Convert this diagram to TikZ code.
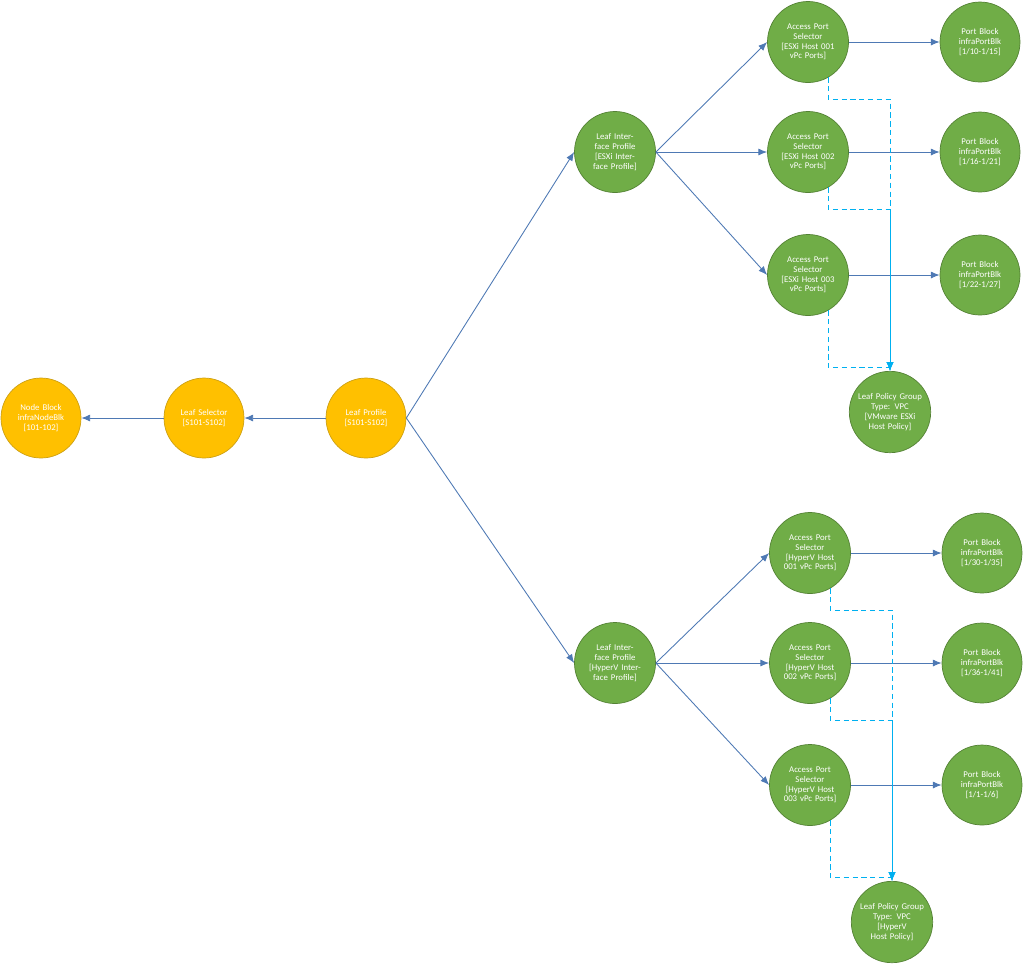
\documentclass[tikz,border=0pt]{standalone}
\usepackage{fontspec}
\setmainfont{Carlito}
\usetikzlibrary{arrows.meta}
\definecolor{leafgreen}{RGB}{112,173,71}
\definecolor{leafgreenline}{RGB}{84,130,53}
\definecolor{nodeorange}{RGB}{255,192,0}
\definecolor{nodeorangeline}{RGB}{205,160,20}
\definecolor{linkblue}{RGB}{78,121,180}
\definecolor{policycyan}{RGB}{0,176,240}
\tikzset{>={Latex[length=5pt,width=4pt]}}

\begin{document}
\begin{tikzpicture}[x=0.02cm, y=-0.02cm]
\tikzset{greenball/.style={circle, draw=leafgreenline, fill=leafgreen, minimum size=1.6cm, inner sep=0pt, text width=1.45cm, align=center, text=white, font=\fontsize{5}{5.6}\selectfont}}
\tikzset{orangeball/.style={greenball, draw=nodeorangeline, fill=nodeorange}}
\tikzset{link/.style={->, draw=linkblue, line width=0.5pt}}
\tikzset{policylink/.style={->, draw=policycyan, densely dashed, line width=0.5pt}}
    \useasboundingbox (0,0) rectangle (1024,965);

    \node[orangeball] (nodeblk) at (41,418) {Node Block\\infraNodeBlk\\{[}101-102{]}};
    \node[orangeball] (leafsel) at (204,418) {Leaf Selector\\{[}S101-S102{]}};
    \node[orangeball] (leafprof) at (366,418) {Leaf Profile\\{[}S101-S102{]}};
% % % % % % % % % % ESXi
    \node[greenball] (lipesx) at (615,152) {Leaf Interface Profile\\{[}ESXi Interface Profile{]}};
    \node[greenball] (aps1) at (808,42) {Access Port Selector\\{[}ESXi Host 001 vPc Ports{]}};
    \node[greenball] (aps2) at (808,152) {Access Port Selector\\{[}ESXi Host 002 vPc Ports{]}};
    \node[greenball] (aps3) at (808,275) {Access Port Selector\\{[}ESXi Host 003 vPc Ports{]}};
    \node[greenball] (pb1) at (980,42) {Port Block\\infraPortBlk\\{[}1/10-1/15{]}};
    \node[greenball] (pb2) at (980,152) {Port Block\\infraPortBlk\\{[}1/16-1/21{]}};
    \node[greenball] (pb3) at (980,275) {Port Block\\infraPortBlk\\{[}1/22-1/27{]}};
    \node[greenball] (lpgesx) at (890,412) {Leaf Policy Group\\Type: VPC\\{[}VMware ESXi Host Policy{]}};
% % % % % % % % % % HyperV
    \node[greenball] (liphv) at (615,663) {Leaf Interface Profile\\{[}HyperV Interface Profile{]}};
    \node[greenball] (aps4) at (810,553) {Access Port Selector\\{[}HyperV Host 001 vPc Ports{]}};
    \node[greenball] (aps5) at (810,663) {Access Port Selector\\{[}HyperV Host 002 vPc Ports{]}};
    \node[greenball] (aps6) at (810,785) {Access Port Selector\\{[}HyperV Host 003 vPc Ports{]}};
    \node[greenball] (pb4) at (982,553) {Port Block\\infraPortBlk\\{[}1/30-1/35{]}};
    \node[greenball] (pb5) at (982,663) {Port Block\\infraPortBlk\\{[}1/36-1/41{]}};
    \node[greenball] (pb6) at (982,785) {Port Block\\infraPortBlk\\{[}1/1-1/6{]}};
    \node[greenball] (lpghv) at (892,922) {Leaf Policy Group\\Type: VPC\\{[}HyperV Host Policy{]}};

    \draw[link] (leafprof) -- (leafsel);
    \draw[link] (leafsel) -- (nodeblk);
    \draw[link] (leafprof.east) -- (lipesx.west);
    \draw[link] (leafprof.east) -- (liphv.west);

    \foreach \lip/\a/\b/\c in {lipesx/aps1/aps2/aps3, liphv/aps4/aps5/aps6} {
        \draw[link] (\lip.east) -- (\a.west);
        \draw[link] (\lip.east) -- (\b.west);
        \draw[link] (\lip.east) -- (\c.west);
    }
    \foreach \a/\p in {aps1/pb1, aps2/pb2, aps3/pb3, aps4/pb4, aps5/pb5, aps6/pb6}
        \draw[link] (\a.east) -- (\p.west);

    \draw[policylink] (aps1.-60) -- ++(0,22) -| (lpgesx.north);
    \draw[policylink] (aps2.-60) -- ++(0,22) -| (lpgesx.north);
    \draw[policylink] (aps3.-60) -- ++(0,57) -| (lpgesx.north);
    \draw[policylink] (aps4.-60) -- ++(0,22) -| (lpghv.north);
    \draw[policylink] (aps5.-60) -- ++(0,22) -| (lpghv.north);
    \draw[policylink] (aps6.-60) -- ++(0,57) -| (lpghv.north);
\end{tikzpicture}
\end{document}
